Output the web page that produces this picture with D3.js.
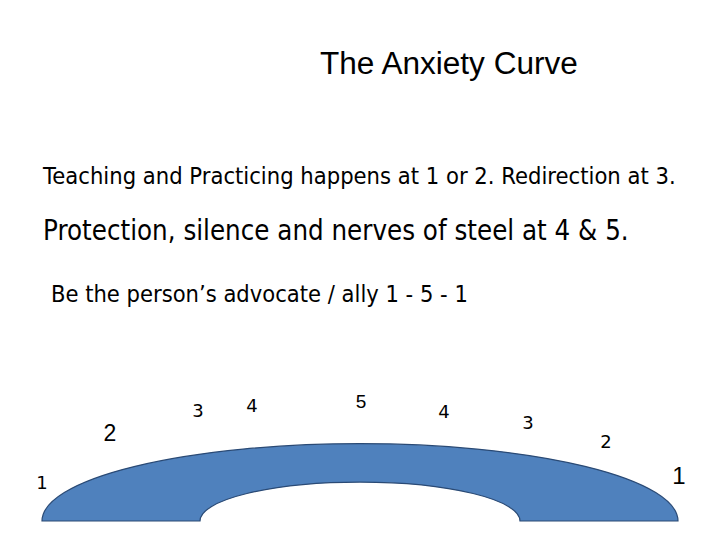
<!DOCTYPE html>
<html>
<head>
<meta charset="utf-8">
<script src="https://cdn.jsdelivr.net/npm/d3@7"></script>
<style>
  body { margin: 0; background: #fff; }
  svg { display: block; }
</style>
</head>
<body>
<div id="slide"></div>
<script>
// slide text
const titleText = "The Anxiety Curve";
const bodyLines = [
    "Teaching and Practicing happens at 1 or 2. Redirection at 3.",
    "Protection, silence and nerves of steel at 4 & 5.",
    "Be the person\u2019s advocate / ally 1 - 5 - 1"
];

// levels along the curve, left to right (slide points, 720 x 540)
const levelLabels = ["1", "2", "3", "4", "5", "4", "3", "2", "1"];
const levelX = [42, 110, 198, 252, 361, 444, 528, 606, 679];
const levelY = [489, 441, 417, 412, 408, 418, 429, 448, 484];

// arch (block arc), slide points
const archCenter = [360, 521];
const archRadii = [160, 318];   // inner, outer (horizontal)
const archFlatten = 0.243;      // vertical squash of the arc

const width = 720, height = 540;

const svg = d3.select("#slide").append("svg")
    .attr("width", width)
    .attr("height", height);

// slide coordinates -> pixels
const x = d3.scaleLinear().domain([0, 720]).range([0, width]);
const y = d3.scaleLinear().domain([0, 540]).range([0, height]);

// squeeze a text horizontally so it spans `len` pixels
function fitWidth(sel, px, py, len) {
    sel.each(function(d, i) {
        let node = d3.select(this);
        let w = this.getComputedTextLength();
        let sx = len(d, i) / w;
        node.attr("transform", `translate(${px(d, i)},${py(d, i)}) scale(${sx},1)`);
    });
}

// Title
svg.append("text")
    .attr("font-family", "Liberation Sans, Arial, sans-serif")
    .attr("font-size", 31)
    .attr("fill", "#000")
    .text(titleText)
    .call(fitWidth, () => x(320), () => y(74), () => 258);

// Body text (Tahoma-ish, narrow)
const bodyX = [43, 43, 51];
const bodyY = [184, 240, 302];
const bodySize = [23, 29, 23];
const bodyLen = [633, 586, 417];

svg.selectAll(".body-line")
    .data(bodyLines)
    .enter()
    .append("text")
    .attr("class", "body-line")
    .attr("font-family", "DejaVu Sans, sans-serif")
    .attr("font-size", (d, i) => bodySize[i])
    .attr("fill", "#000")
    .text(d => d)
    .call(fitWidth, (d, i) => x(bodyX[i]), (d, i) => y(bodyY[i]), (d, i) => bodyLen[i]);

// The arch: a half ring, squashed vertically
const arc = d3.arc()
    .innerRadius(archRadii[0])
    .outerRadius(archRadii[1])
    .startAngle(-Math.PI / 2)
    .endAngle(Math.PI / 2);

svg.append("g")
    .attr("transform", `translate(${x(archCenter[0])},${y(archCenter[1])}) scale(1,${archFlatten})`)
    .append("path")
    .attr("d", arc())
    .attr("fill", "#4f81bd")
    .attr("stroke", "#2a4a75")
    .attr("stroke-width", 1.2)
    .attr("vector-effect", "non-scaling-stroke");

// Level numbers - a few are set larger in Arial
const bigLabel = [false, true, false, false, true, false, false, false, true];
const labelSize = [18, 23, 18, 18, 19, 18, 18, 18, 24];

svg.selectAll(".level")
    .data(levelLabels)
    .enter()
    .append("text")
    .attr("class", "level")
    .attr("x", (d, i) => x(levelX[i]))
    .attr("y", (d, i) => y(levelY[i]))
    .attr("text-anchor", "middle")
    .attr("font-family", (d, i) => bigLabel[i] ? "Liberation Sans, Arial, sans-serif" : "DejaVu Sans, sans-serif")
    .attr("font-size", (d, i) => labelSize[i])
    .attr("fill", "#000")
    .text(d => d);
</script>
</body>
</html>
